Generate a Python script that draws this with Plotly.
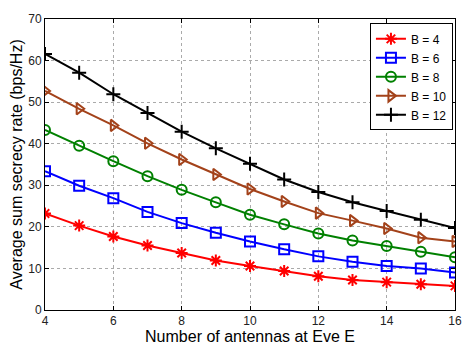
import plotly.graph_objects as go

antennas = [4, 5, 6, 7, 8, 9, 10, 11, 12, 13, 14, 15, 16]
rate_b4 = [23.2, 20.3, 17.7, 15.5, 13.7, 11.9, 10.6, 9.4, 8.1, 7.2, 6.7, 6.2, 5.8]
rate_b6 = [33.4, 29.9, 26.9, 23.6, 20.9, 18.6, 16.5, 14.6, 12.9, 11.6, 10.6, 10.0, 9.0]
rate_b8 = [43.3, 39.5, 35.8, 32.2, 28.9, 25.9, 22.9, 20.6, 18.4, 16.7, 15.4, 14.0, 12.7]
rate_b10 = [52.7, 48.4, 44.4, 40.1, 36.2, 32.6, 29.1, 26.1, 23.3, 21.5, 19.6, 17.4, 16.5]
rate_b12 = [61.6, 57.1, 51.9, 47.4, 42.9, 38.9, 35.2, 31.4, 28.4, 25.9, 23.8, 21.7, 19.7]

series = [
    ("B = 4", rate_b4, "#ff0000", "asterisk-open"),
    ("B = 6", rate_b6, "#0000ff", "square-open"),
    ("B = 8", rate_b8, "#008000", "circle-open"),
    ("B = 10", rate_b10, "#a3421a", "triangle-right-open"),
    ("B = 12", rate_b12, "#000000", "cross-thin-open"),
]

fig = go.Figure()
for name, vals, color, sym in series:
    fig.add_trace(go.Scatter(
        x=antennas, y=vals, name=name, mode="lines+markers",
        line=dict(color=color, width=2),
        marker=dict(symbol=sym, size=10, color=color, line=dict(color=color, width=2)),
    ))

axis_common = dict(
    showline=True, linecolor="black", linewidth=1, mirror="ticks",
    ticks="inside", ticklen=4, tickcolor="black",
    showgrid=True, gridcolor="#aaaaaa", griddash="dot", gridwidth=1,
    zeroline=False, ticklabeloverflow="allow",
    tickfont=dict(size=12, color="#222222", family="Liberation Sans, Arial"),
)

fig.update_layout(
    width=474, height=355,
    margin=dict(l=45, r=14, t=12, b=36),
    paper_bgcolor="white", plot_bgcolor="white",
    font=dict(family="Liberation Sans, Arial", color="black"),
    xaxis=dict(range=[4, 16], tickvals=[4, 6, 8, 10, 12, 14, 16],
               title=dict(text="Number of antennas at Eve E", font=dict(size=16), standoff=3),
               **axis_common),
    yaxis=dict(range=[0, 70], tickvals=[0, 10, 20, 30, 40, 50, 60, 70],
               title=dict(text="Average sum secrecy rate (bps/Hz)", font=dict(size=16), standoff=1),
               **axis_common),
    legend=dict(x=0.995, y=0.985, xanchor="right", yanchor="top",
                bordercolor="black", borderwidth=1, bgcolor="white",
                font=dict(size=12), tracegroupgap=0, itemwidth=30),
    showlegend=True,
)

fig.write_html("out.html", config={"displayModeBar": False},
               post_script="document.body.style.margin='0';document.body.style.overflow='hidden';")
